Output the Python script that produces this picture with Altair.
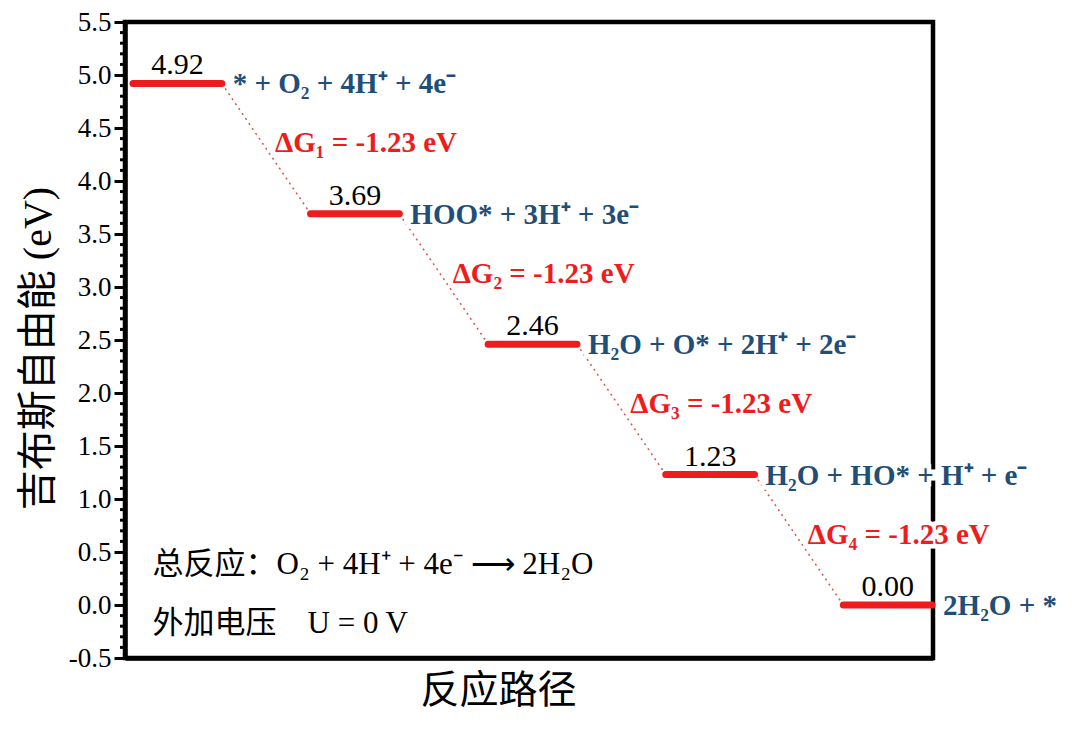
import altair as alt
import pandas as pd
import numpy as np

# ---- data ----
energies = [4.92, 3.69, 2.46, 1.23, 0.00]
value_labels = ["4.92", "3.69", "2.46", "1.23", "0.00"]
species = [
    "* + O₂ + 4H⁺ + 4e⁻",
    "HOO* + 3H⁺ + 3e⁻",
    "H₂O + O* + 2H⁺ + 2e⁻",
    "H₂O + HO* + H⁺ + e⁻",
    "2H₂O + *",
]
dg_labels = [
    "ΔG₁ = -1.23 eV",
    "ΔG₂ = -1.23 eV",
    "ΔG₃ = -1.23 eV",
    "ΔG₄ = -1.23 eV",
]
notes = ["总反应：O₂ + 4H⁺ + 4e⁻ ⟶ 2H₂O", "外加电压　U = 0 V"]
note_y = [0.38, -0.18]
major_ticks = [-0.5, 0.0, 0.5, 1.0, 1.5, 2.0, 2.5, 3.0, 3.5, 4.0, 4.5, 5.0, 5.5]
minor_ticks = [round(v, 1) for v in np.arange(-0.5, 5.5001, 0.1)
               if abs(v * 2 - round(v * 2)) > 1e-6]

RED = "#ee1c1c"
BLUE = "#1f4e79"
SERIF = "Liberation Serif, Noto Sans CJK SC"

steps = list(range(len(energies)))
levels = pd.DataFrame({
    "x": [2 * i for i in steps],
    "x2": [2 * i + 1 for i in steps],
    "xc": [2 * i + 0.5 for i in steps],
    "y": energies,
    "val": value_labels,
    "sp": species,
})
conn = pd.DataFrame({
    "x": [2 * i + 1 for i in steps[:-1]],
    "x2": [2 * i + 2 for i in steps[:-1]],
    "y": energies[:-1],
    "y2": energies[1:],
    "lab": dg_labels,
})
conn["lx"] = conn["x"] + 0.6
conn["ly"] = (conn["y"] + conn["y2"]) / 2 + 0.05
note_df = pd.DataFrame({"x": [0.22, 0.22], "y": note_y, "t": notes})
minor_df = pd.DataFrame({"y": minor_ticks})

xs = alt.Scale(domain=[-0.09, 9.01], nice=False, zero=False)
ys = alt.Scale(domain=[-0.5, 5.5], nice=False, zero=False)

y_axis = alt.Axis(
    values=major_ticks,
    format=".1f",
    labelExpr="datum.value < 0 ? '-' + format(-datum.value, '.1f') : format(datum.value, '.1f')",
    tickSize=11,
    tickWidth=3,
    tickColor="black",
    labelOverlap=False,
    labelFont="Liberation Serif",
    labelFontSize=27,
    labelColor="black",
    labelPadding=3,
    domainColor="black",
    domainWidth=4.5,
    grid=False,
    title="吉布斯自由能 (eV)",
    titleFont=SERIF,
    titleFontSize=40,
    titleFontWeight="normal",
    titleColor="black",
    titleX=-87,
    titleY=326,
    titleBaseline="middle",
)
x_axis = alt.Axis(
    labels=False,
    ticks=False,
    grid=False,
    domainColor="black",
    domainWidth=4.5,
    title="反应路径",
    titleFont=SERIF,
    titleFontSize=39,
    titleFontWeight="normal",
    titleColor="black",
    titleX=373,
    titleY=32,
    titleBaseline="middle",
)

X = lambda f: alt.X(f, scale=xs, axis=x_axis)
Y = lambda f: alt.Y(f, scale=ys, axis=y_axis)

base = alt.Chart(levels)

minor = alt.Chart(minor_df).mark_rule(strokeWidth=3, color="black").encode(
    x=alt.value(-5), x2=alt.value(0), y=Y("y:Q")
)

bars = base.mark_rule(strokeWidth=7, color=RED, strokeCap="round").encode(
    x=X("x:Q"), x2="x2:Q", y=Y("y:Q")
)

connectors = alt.Chart(conn).mark_rule(
    strokeWidth=1.5, color="#d9534f", strokeDash=[2, 4]
).encode(x=X("x:Q"), x2="x2:Q", y=Y("y:Q"), y2="y2:Q")

vals = base.mark_text(
    font="Liberation Serif", fontSize=30, color="black", baseline="alphabetic", dy=-9
).encode(x=X("xc:Q"), y=Y("y:Q"), text="val:N")

spec_kw = dict(font="Liberation Serif", fontSize=29, fontWeight="bold",
               align="left", baseline="alphabetic", dx=11, dy=10)
spec_halo = base.mark_text(color="white", stroke="white", strokeWidth=9, **spec_kw).encode(
    x=X("x2:Q"), y=Y("y:Q"), text="sp:N")
spec = base.mark_text(color=BLUE, **spec_kw).encode(
    x=X("x2:Q"), y=Y("y:Q"), text="sp:N")

dg_kw = dict(font="Liberation Serif", fontSize=29, fontWeight="bold",
             align="left", baseline="middle")
dg_halo = alt.Chart(conn).mark_text(color="white", stroke="white", strokeWidth=9, **dg_kw).encode(
    x=X("lx:Q"), y=Y("ly:Q"), text="lab:N")
dg = alt.Chart(conn).mark_text(color=RED, **dg_kw).encode(
    x=X("lx:Q"), y=Y("ly:Q"), text="lab:N")

note = alt.Chart(note_df).mark_text(
    font=SERIF, fontSize=31, color="black", align="left", baseline="middle"
).encode(x=X("x:Q"), y=Y("y:Q"), text="t:N")

chart = alt.layer(minor, connectors, bars, vals, spec_halo, dg_halo, spec, dg, note).properties(
    width=808,
    height=636,
    padding={"left": 117, "top": 14, "right": 139, "bottom": 60},
    autosize=alt.AutoSizeParams(type="none"),
).configure_view(stroke="black", strokeWidth=4.5)

chart.save("out.html", embed_options={"renderer": "svg", "actions": False})
